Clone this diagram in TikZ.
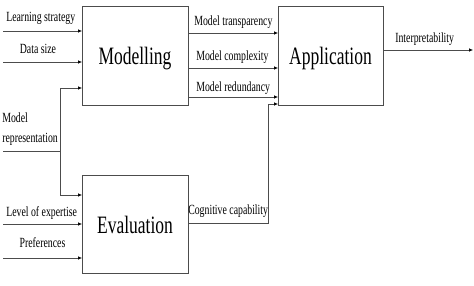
\documentclass[tikz,border=0pt]{standalone}
\usepackage{fontspec}
\setmainfont{Liberation Serif}[FakeStretch=0.7]
\usetikzlibrary{arrows.meta}

\begin{document}
\begin{tikzpicture}[
  x=1pt, y=-1pt,
  line width=0.6pt,
  Block/.style={draw=black!70, minimum width=106pt, minimum height=99pt,
                inner sep=0pt, outer sep=0pt, text height=18pt, text depth=0pt,
                font=\fontsize{25}{28}\selectfont},
  Lbl/.style={inner sep=0pt, font=\fontsize{14}{20}\selectfont},
  Flow/.style={draw=black!70, -{Latex[length=4pt, width=3.5pt, black]}},
  ]
\useasboundingbox (0,0) rectangle (474,286);

\node [Block] (model) at (135,55.5) {Modelling};
\node [Block, minimum width=105pt] (app) at (330.5,55.5) {Application};
\node [Block, minimum height=98pt] (eval) at (135,224) {Evaluation};

% inputs of the modelling block
\coordinate (ls) at (3,31);
\coordinate (ds) at (3,62);
\draw [Flow] (ls) -- (ls -| model.west);
\draw [Flow] (ds) -- (ds -| model.west);
\node [Lbl, anchor=base west] (lsText) at (6,22) {Learning strategy};
\node [Lbl, anchor=base] (dsText) at (38,54) {Data size};

% model representation goes to both blocks
\coordinate (mr) at (3,151);
\coordinate (split) at (60,151);
\draw [Flow] (mr) -- (split) |- ([yshift=17pt]model.south west);
\draw [Flow] (split) |- ([yshift=-20pt]eval.north west);
\node [Lbl, anchor=west, align=left] (mrText) at (2,129.5) {Model\\representation};

% inputs of the evaluation block
\coordinate (le) at (3,224);
\coordinate (pr) at (3,258);
\draw [Flow] (le) -- (le -| eval.west);
\draw [Flow] (pr) -- (pr -| eval.west);
\node [Lbl, anchor=base west] (leText) at (6,216) {Level of expertise};
\node [Lbl, anchor=base] (prText) at (42.5,247) {Preferences};

% modelling to application
\coordinate (mt) at (0,33);
\coordinate (mc) at (0,68);
\coordinate (mred) at (0,97);
\draw [Flow] (mt -| model.east) -- (mt -| app.west);
\draw [Flow] (mc -| model.east) -- (mc -| app.west);
\draw [Flow] (mred -| model.east) -- (mred -| app.west);
\node [Lbl, anchor=base west] (mtText) at (194,26) {Model transparency};
\node [Lbl, anchor=base west] (mcText) at (196,61) {Model complexity};
\node [Lbl, anchor=base west] (mredText) at (196,92) {Model redundancy};

% evaluation to application
\coordinate (cc) at (0,223);
\coordinate (ccUp) at (268,104);
\draw [Flow] (cc -| eval.east) -| (ccUp) -- (ccUp -| app.west);
\node [Lbl, anchor=base west] (ccText) at (188,214) {Cognitive capability};

% output
\coordinate (ip) at (473,50);
\draw [Flow] (ip -| app.east) -- (ip);
\node [Lbl, anchor=base west] (ipText) at (395,43) {Interpretability};
\end{tikzpicture}
\end{document}
